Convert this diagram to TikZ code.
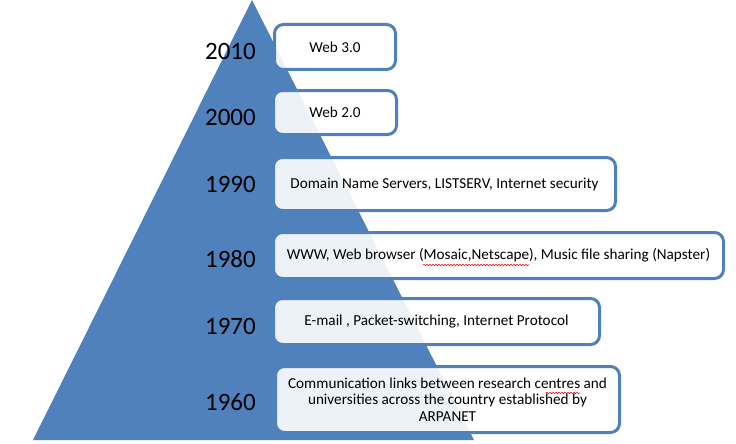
\documentclass[tikz,border=0pt]{standalone}
\usepackage{fontspec}
\setmainfont{Carlito}
\usetikzlibrary{decorations.pathmorphing}
\definecolor{triblue}{HTML}{4F81BD}
\definecolor{boxline}{HTML}{4F81BD}
\tikzset{
  evbox/.style={draw=boxline, line width=3pt, rounded corners=9pt, fill=white, fill opacity=0.9, text opacity=1, inner sep=2pt, align=center, font=\fontsize{15.2}{16.6}\selectfont},
  yearlbl/.style={anchor=east, inner sep=0pt, font=\fontsize{25}{28}\selectfont},
  spell/.style={draw=red, line width=0.6pt, decorate, decoration={snake, amplitude=0.7pt, segment length=3pt}}
}
\begin{document}
\begin{tikzpicture}[x=1pt,y=-1pt]
\useasboundingbox (0,0) rectangle (736,444);
\fill[triblue] (252,0) -- (33,440) -- (474,440) -- cycle;
\node[evbox, minimum width=121pt, minimum height=45pt] (b1) at (335,47) {Web 3.0};
\node[evbox, minimum width=123pt, minimum height=44pt] (b2) at (335,112.5) {Web 2.0};
\node[evbox, minimum width=342pt, minimum height=53pt] (b3) at (444.5,184) {Domain Name Servers, LISTSERV,\ Internet security};
\node[evbox, minimum width=450pt, minimum height=46pt] (b4) at (498.5,255.5) {WWW, Web browser (Mosaic,Netscape), Music file sharing\ (Napster)};
\node[evbox, minimum width=326pt, minimum height=46pt] (b5) at (436.5,321.5) {E-mail , Packet-switching,\ Internet Protocol};
\node[evbox, minimum width=344pt, minimum height=66pt] (b6) at (447.5,399.5) {Communication links between research centres and\\ universities across the country established by\\ ARPANET};
\node[yearlbl] (y1) at (256,51) {2010};
\node[yearlbl] (y2) at (256,117) {2000};
\node[yearlbl] (y3) at (256,184) {1990};
\node[yearlbl] (y4) at (256,259) {1980};
\node[yearlbl] (y5) at (256,326) {1970};
\node[yearlbl] (y6) at (256,402) {1960};
\draw[spell] (423,265) -- (529,265);
\draw[spell] (546,393) -- (580,393);
\end{tikzpicture}
\end{document}
